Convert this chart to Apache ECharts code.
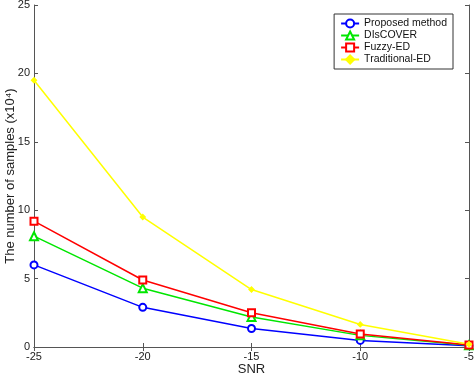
<!DOCTYPE html>
<html>
<head>
<meta charset="utf-8">
<script src="https://cdn.jsdelivr.net/npm/echarts@6/dist/echarts.min.js"></script>
<style>
  html, body { margin: 0; padding: 0; background: #fff; }
  #chart { width: 474px; height: 377px; }
</style>
</head>
<body>
<div id="chart"></div>
<script>
var snr = [-25, -20, -15, -10, -5];
var proposed = [6.0, 2.9, 1.35, 0.48, 0.1];
var discover = [8.1, 4.3, 2.2, 0.85, 0.12];
var fuzzyEd = [9.2, 4.9, 2.5, 0.95, 0.15];
var traditionalEd = [19.5, 9.5, 4.2, 1.65, 0.2];

var myChart = echarts.init(document.getElementById('chart'));
var axisColor = '#555';

function pairs(vals) {
  return snr.map(function (x, i) { return [x, vals[i]]; });
}

function line(name, vals, color, symbol, size) {
  return {
    name: name,
    type: 'line',
    data: pairs(vals),
    symbol: symbol,
    symbolSize: size,
    color: color,
    lineStyle: { width: 1.5, color: color },
    itemStyle: { color: color, borderColor: color, borderWidth: 1.3 },
    animation: false
  };
}

var option = {
  textStyle: { fontFamily: 'Liberation Sans, Arial, sans-serif' },
  grid: { left: 34, right: 5, top: 5, bottom: 30, outerBoundsMode: 'none' },
  legend: {
    orient: 'vertical',
    right: 21,
    top: 14,
    itemGap: 1,
    itemWidth: 18,
    itemHeight: 10,
    padding: [4, 6, 4, 6],
    borderColor: '#333',
    borderWidth: 1,
    textStyle: { fontSize: 10.5, color: '#111' },
    data: ['Proposed method', 'DIsCOVER', 'Fuzzy-ED', 'Traditional-ED']
  },
  xAxis: [{
    type: 'value',
    min: -25, max: -5, interval: 5,
    name: 'SNR',
    nameLocation: 'middle',
    nameGap: 16,
    nameMoveOverlap: false,
    nameTextStyle: { fontSize: 13, color: '#222' },
    axisLine: { lineStyle: { color: axisColor } },
    axisTick: { inside: true, length: 4, lineStyle: { color: axisColor } },
    axisLabel: { fontSize: 11, color: '#222', margin: 4 },
    splitLine: { show: false }
  }, {
    type: 'value',
    position: 'top',
    min: -25, max: -5, interval: 5,
    axisLine: { show: true, lineStyle: { color: axisColor } },
    axisTick: { inside: true, length: 4, lineStyle: { color: axisColor } },
    axisLabel: { show: false },
    splitLine: { show: false }
  }],
  yAxis: [{
    type: 'value',
    min: 0, max: 25, interval: 5,
    name: 'The number of samples (x10\u2074)',
    nameLocation: 'middle',
    nameGap: 17,
    nameMoveOverlap: false,
    nameTextStyle: { fontSize: 13, color: '#222' },
    axisLine: { show: true, lineStyle: { color: axisColor } },
    axisTick: { show: true, inside: true, length: 4, lineStyle: { color: axisColor } },
    axisLabel: { fontSize: 11, color: '#222', margin: 4 },
    splitLine: { show: false }
  }, {
    type: 'value',
    position: 'right',
    min: 0, max: 25, interval: 5,
    axisLine: { show: true, lineStyle: { color: axisColor } },
    axisTick: { show: true, inside: true, length: 4, lineStyle: { color: axisColor } },
    axisLabel: { show: false },
    splitLine: { show: false }
  }],
  series: [
    line('Proposed method', proposed, '#0000ff', 'emptyCircle', 7),
    line('DIsCOVER', discover, '#00e600', 'emptyTriangle', 8),
    line('Fuzzy-ED', fuzzyEd, '#ff0000', 'emptyRect', 7),
    line('Traditional-ED', traditionalEd, '#ffff00', 'diamond', 5)
  ]
};

option && myChart.setOption(option);
</script>
</body>
</html>
